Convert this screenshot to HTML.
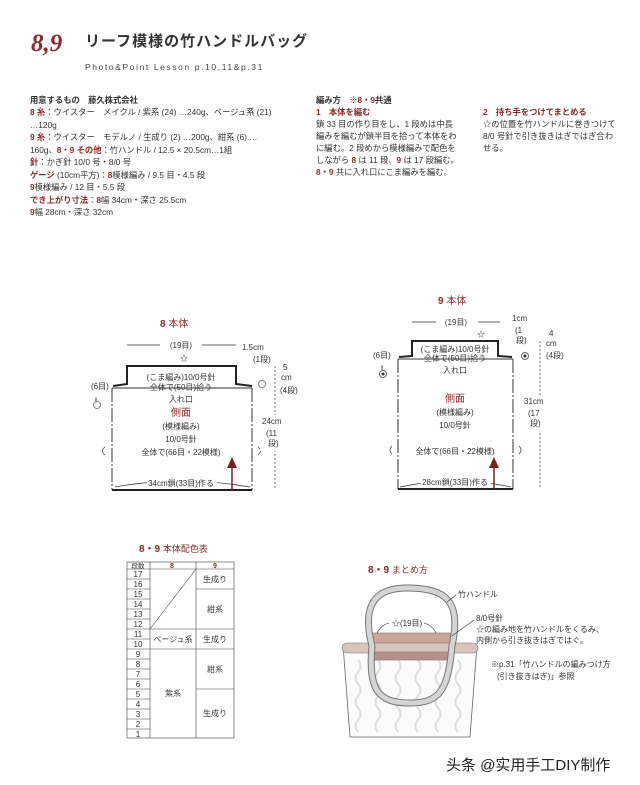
<!DOCTYPE html>
<html><head><meta charset="utf-8"><style>
html,body{margin:0;padding:0;background:#fff;}
svg{display:block;font-family:"Liberation Sans","Noto Sans CJK JP",sans-serif;}
.t{font-size:8.3px;fill:#333;}
.r{fill:#8b2a2a;font-weight:bold;}
.d{font-size:8px;fill:#333;}
</style></head><body>
<svg width="640" height="785" viewBox="0 0 640 785" xmlns="http://www.w3.org/2000/svg">
<rect width="640" height="785" fill="#fff"/>
<!-- title -->
<text x="31" y="51" font-family="Liberation Serif,serif" font-style="italic" font-weight="bold" font-size="25" fill="#8b2a2a">8,9</text>
<text x="85" y="46" font-size="15" font-weight="bold" fill="#333" letter-spacing="1">リーフ模様の竹ハンドルバッグ</text>
<text x="85" y="70" font-size="8.5" fill="#444" letter-spacing="1.6">Photo&amp;Point Lesson  p.10,11&amp;p.31</text>
<!-- left text -->
<g class="t">
<text x="30" y="103" font-weight="bold">用意するもの　藤久株式会社</text>
<text x="30" y="115"><tspan class="r">8 糸</tspan>：ウイスター　メイクル / 紫系 (24) …240g、ベージュ系 (21)</text>
<text x="30" y="128">…120g</text>
<text x="30" y="140"><tspan class="r">9 糸</tspan>：ウイスター　モデルノ / 生成り (2) …200g、紺系 (6) …</text>
<text x="30" y="153">160g、<tspan class="r">8・9 その他</tspan>：竹ハンドル / 12.5 × 20.5cm…1組</text>
<text x="30" y="165"><tspan class="r">針</tspan>：かぎ針 10/0 号・8/0 号</text>
<text x="30" y="178"><tspan class="r">ゲージ</tspan> (10cm平方)：<tspan class="r">8</tspan>模様編み / 9.5 目・4.5 段</text>
<text x="30" y="190"><tspan class="r">9</tspan>模様編み / 12 目・5.5 段</text>
<text x="30" y="203"><tspan class="r">でき上がり寸法</tspan>：<tspan class="r">8</tspan>幅 34cm・深さ 25.5cm</text>
<text x="30" y="215"><tspan class="r">9</tspan>幅 28cm・深さ 32cm</text>
</g>
<g class="t">
<text x="316" y="103" font-weight="bold">編み方　※<tspan class="r">8・9</tspan>共通</text>
<text x="316" y="115" class="r">1　本体を編む</text>
<text x="316" y="127">鎖 33 目の作り目をし、1 段めは中長</text>
<text x="316" y="139">編みを編むが鎖半目を拾って本体をわ</text>
<text x="316" y="151">に編む。2 段めから模様編みで配色を</text>
<text x="316" y="163">しながら <tspan class="r">8</tspan> は 11 段、<tspan class="r">9</tspan> は 17 段編む。</text>
<text x="316" y="175"><tspan class="r">8・9</tspan> 共に入れ口にこま編みを編む。</text>
<text x="483" y="115" class="r">2　持ち手をつけてまとめる</text>
<text x="483" y="127">☆の位置を竹ハンドルに巻きつけて</text>
<text x="483" y="139">8/0 号針で引き抜きはぎではぎ合わ</text>
<text x="483" y="151">せる。</text>
</g>
<!-- diagram 8 -->
<g class="d" stroke-width="1">
<text x="160" y="327" class="r" font-size="10">8 <tspan fill="#8b2a2a" font-weight="normal">本体</tspan></text>
<line x1="127" y1="345" x2="236" y2="345" stroke="#333" stroke-width="0.7"/>
<rect x="160" y="339" width="42" height="11" fill="#fff"/>
<text x="181" y="348" text-anchor="middle">(19目)</text>
<text x="180" y="361">☆</text>
<path d="M112 388 L112 490 M252 388 L252 490" stroke="#333" stroke-dasharray="14 2 2 2" fill="none"/>
<path d="M112 388 L252 388" stroke="#333" fill="none"/>
<path d="M112 490 L252 490" stroke="#222" stroke-width="2" fill="none"/>
<path d="M113 386 L127 384 L127 366 L236 366 L236 384 L252 386" stroke="#222" stroke-width="2" fill="none"/>
<text x="181" y="380" text-anchor="middle">(こま編み)10/0号針</text>
<text x="181" y="390" text-anchor="middle">全体で(50目)拾う</text>
<text x="181" y="402" text-anchor="middle">入れ口</text>
<text x="181" y="416" text-anchor="middle" fill="#8b2a2a" font-size="10">側面</text>
<text x="181" y="429" text-anchor="middle">(模様編み)</text>
<text x="181" y="442" text-anchor="middle">10/0号針</text>
<text x="181" y="455" text-anchor="middle">全体で(66目・22模様)</text>
<path d="M105 447 Q100 451 105 455 M258 447 Q263 451 258 455" stroke="#333" fill="none" stroke-width="0.7"/>
<path d="M115 487 Q181 475 250 487" stroke="#333" fill="none" stroke-width="0.7"/>
<rect x="147" y="477" width="70" height="10" fill="#fff"/>
<text x="181" y="486" text-anchor="middle">34cm鎖(33目)作る</text>
<line x1="232" y1="490" x2="232" y2="466" stroke="#7a1f1f" stroke-width="1.5"/>
<polygon points="227,468 237,468 232,457" fill="#7a1f1f"/>
<text x="91" y="389">(6目)</text>
<text x="95" y="402" font-size="6">‖</text>
<circle cx="97" cy="405" r="3.5" fill="none" stroke="#888"/>
<circle cx="262" cy="384" r="3.5" fill="none" stroke="#888"/>
<text x="242" y="350">1.5cm</text>
<text x="253" y="362">(1段)</text>
<line x1="275" y1="366" x2="275" y2="490" stroke="#333" stroke-dasharray="2 2" stroke-width="0.7"/>
<text x="283" y="370">5</text><text x="281" y="380">cm</text><text x="280" y="393">(4段)</text>
<rect x="260" y="415" width="24" height="36" fill="#fff"/>
<text x="262" y="424">24cm</text><text x="266" y="436">(11</text><text x="268" y="446">段)</text>
</g>
<!-- diagram 9 -->
<g class="d">
<text x="438" y="304" class="r" font-size="10">9 <tspan font-weight="normal">本体</tspan></text>
<line x1="412" y1="322" x2="500" y2="322" stroke="#333" stroke-width="0.7"/>
<rect x="436" y="316" width="42" height="11" fill="#fff"/>
<text x="456" y="325" text-anchor="middle">(19目)</text>
<text x="477" y="337">☆</text>
<path d="M398 359 L398 489 M513 359 L513 489" stroke="#333" stroke-dasharray="14 2 2 2" fill="none"/>
<path d="M398 359 L513 359" stroke="#333"/>
<path d="M398 489 L513 489" stroke="#222" stroke-width="2"/>
<path d="M399 357 L412 356 L412 341 L498 341 L498 356 L512 357" stroke="#222" stroke-width="2" fill="none"/>
<text x="455" y="352" text-anchor="middle">(こま編み)10/0号針</text>
<text x="455" y="361" text-anchor="middle">全体で(50目)拾う</text>
<text x="455" y="373" text-anchor="middle">入れ口</text>
<text x="455" y="402" text-anchor="middle" fill="#8b2a2a" font-size="10">側面</text>
<text x="455" y="415" text-anchor="middle">(模様編み)</text>
<text x="455" y="428" text-anchor="middle">10/0号針</text>
<text x="455" y="454" text-anchor="middle">全体で(66目・22模様)</text>
<path d="M392 446 Q388 450 392 454 M519 446 Q523 450 519 454" stroke="#333" fill="none" stroke-width="0.7"/>
<path d="M400 487 Q455 475 511 487" stroke="#333" fill="none" stroke-width="0.7"/>
<rect x="421" y="476" width="70" height="10" fill="#fff"/>
<text x="455" y="485" text-anchor="middle">28cm鎖(33目)作る</text>
<line x1="494" y1="489" x2="494" y2="466" stroke="#7a1f1f" stroke-width="1.5"/>
<polygon points="489,468 499,468 494,457" fill="#7a1f1f"/>
<text x="373" y="358">(6目)</text>
<text x="381" y="370" font-size="6">‖</text>
<circle cx="383" cy="374" r="3.5" fill="#fff" stroke="#666"/><circle cx="383" cy="374" r="1.5" fill="#333"/>
<circle cx="525" cy="356" r="3.5" fill="#fff" stroke="#666"/><circle cx="525" cy="356" r="1.5" fill="#333"/>
<text x="512" y="321">1cm</text><text x="515" y="333">(1</text><text x="516" y="343">段)</text>
<line x1="540" y1="341" x2="540" y2="489" stroke="#333" stroke-dasharray="2 2" stroke-width="0.7"/>
<text x="549" y="336">4</text><text x="546" y="346">cm</text><text x="546" y="358">(4段)</text>
<rect x="523" y="395" width="24" height="36" fill="#fff"/>
<text x="524" y="404">31cm</text><text x="528" y="416">(17</text><text x="530" y="426">段)</text>
</g>
<!-- table -->
<g class="d" font-size="7.5">
<text x="139" y="552" class="r" font-size="10">8・9 <tspan font-weight="normal" font-size="9">本体配色表</tspan></text>
<g stroke="#444" stroke-width="0.6" fill="none">
<rect x="127" y="562" width="107" height="176"/>
<line x1="150" y1="562" x2="150" y2="738"/>
<line x1="196" y1="562" x2="196" y2="738"/>
<line x1="127" y1="569" x2="234" y2="569"/>
<path d="M127 579 h23 M127 589 h23 M127 599 h23 M127 609 h23 M127 619 h23 M127 629 h23 M127 639 h23 M127 649 h23 M127 659 h23 M127 669 h23 M127 679 h23 M127 689 h23 M127 699 h23 M127 709 h23 M127 719 h23 M127 729 h23"/>
<line x1="150" y1="629" x2="196" y2="629"/>
<line x1="150" y1="649" x2="196" y2="649"/>
<line x1="150" y1="629" x2="196" y2="569"/>
<path d="M196 589 h38 M196 629 h38 M196 649 h38 M196 689 h38"/>
</g>
<text x="138" y="568" text-anchor="middle" font-size="6.5">段数</text>
<text x="172" y="568" text-anchor="middle" class="r" font-size="7">8</text>
<text x="215" y="568" text-anchor="middle" class="r" font-size="7">9</text>
<g text-anchor="middle">
<text x="138" y="577">17</text><text x="138" y="587">16</text><text x="138" y="597">15</text><text x="138" y="607">14</text><text x="138" y="617">13</text><text x="138" y="627">12</text><text x="138" y="637">11</text><text x="138" y="647">10</text><text x="138" y="657">9</text><text x="138" y="667">8</text><text x="138" y="677">7</text><text x="138" y="687">6</text><text x="138" y="697">5</text><text x="138" y="707">4</text><text x="138" y="717">3</text><text x="138" y="727">2</text><text x="138" y="737">1</text>
<text x="173" y="642">ベージュ系</text>
<text x="173" y="696">紫系</text>
<text x="215" y="582">生成り</text>
<text x="215" y="612">紺系</text>
<text x="215" y="642">生成り</text>
<text x="215" y="672">紺系</text>
<text x="215" y="716">生成り</text>
</g>
</g>
<!-- bag -->
<g class="d">
<text x="368" y="573" class="r" font-size="10">8・9 <tspan font-weight="normal" font-size="9">まとめ方</tspan></text>
<path d="M343 645 L477 645 L470 737 L350 737 Z" fill="#fbfbfb" stroke="#666" stroke-width="0.8"/>
<g stroke="#ddd" stroke-width="2" fill="none">
<path d="M358 660 q5 6 0 12 q-5 6 0 12 q5 6 0 12 q-5 6 0 12 q5 6 0 12 q-5 6 0 12"/>
<path d="M378 660 q5 6 0 12 q-5 6 0 12 q5 6 0 12 q-5 6 0 12 q5 6 0 12 q-5 6 0 12"/>
<path d="M398 660 q5 6 0 12 q-5 6 0 12 q5 6 0 12 q-5 6 0 12 q5 6 0 12 q-5 6 0 12"/>
<path d="M418 660 q5 6 0 12 q-5 6 0 12 q5 6 0 12 q-5 6 0 12 q5 6 0 12 q-5 6 0 12"/>
<path d="M438 660 q5 6 0 12 q-5 6 0 12 q5 6 0 12 q-5 6 0 12 q5 6 0 12 q-5 6 0 12"/>
<path d="M458 660 q5 6 0 12 q-5 6 0 12 q5 6 0 12 q-5 6 0 12 q5 6 0 12 q-5 6 0 12"/>
</g>
<rect x="371" y="633" width="80" height="12" fill="#c9a59c" stroke="#777" stroke-width="0.6"/>
<rect x="342" y="643" width="136" height="10" rx="5" fill="#d8c4bd" stroke="#777" stroke-width="0.6"/>
<rect x="370" y="652" width="80" height="8" fill="#b88f86" stroke="#777" stroke-width="0.6"/>
<path d="M372 646 C360 600 380 587 410 588 C445 589 462 600 452 646 C448 690 440 703 410 703 C378 703 368 690 372 646 Z" fill="none" stroke="#777" stroke-width="7"/>
<path d="M372 646 C360 600 380 587 410 588 C445 589 462 600 452 646 C448 690 440 703 410 703 C378 703 368 690 372 646 Z" fill="none" stroke="#d4d4d4" stroke-width="5"/>
<text x="458" y="597">竹ハンドル</text>
<line x1="456" y1="595" x2="447" y2="602" stroke="#333" stroke-width="0.6"/>
<text x="392" y="626">☆(19目)</text>
<path d="M389 623 q-8 2 -12 10 M424 623 q8 2 12 10" stroke="#333" fill="none" stroke-width="0.6"/>
<text x="476" y="621">8/0号針</text>
<text x="476" y="632">☆の編み地を竹ハンドルをくるみ、</text>
<text x="476" y="643">内側から引き抜きはぎではぐ。</text>
<line x1="474" y1="620" x2="452" y2="636" stroke="#333" stroke-width="0.6"/>
<text x="491" y="667">※p.31「竹ハンドルの編みつけ方</text>
<text x="497" y="679">(引き抜きはぎ)」参照</text>
</g>
<text x="446" y="770" font-size="15" fill="#222" font-family="Liberation Sans,Noto Sans CJK SC,sans-serif">头条 @实用手工DIY制作</text>
</svg>
</body></html>
